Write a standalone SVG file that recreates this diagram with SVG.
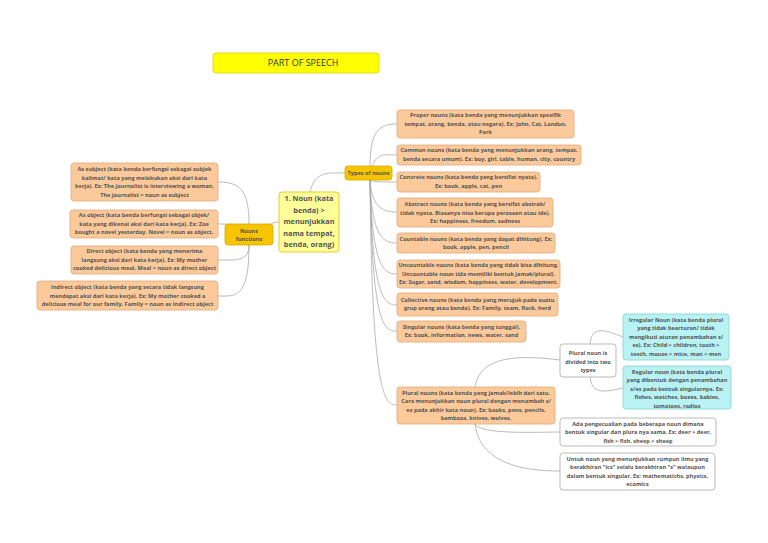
<svg xmlns="http://www.w3.org/2000/svg" width="768" height="543" viewBox="0 0 768 543">
<style>
text{font-family:"Open Sans","Liberation Sans",sans-serif;font-weight:bold;font-size:5.6px;fill:#555;text-anchor:middle}
.p{fill:#fcca9a;stroke:#e0a878;stroke-width:0.8}
.w{fill:#fff;stroke:#aaa;stroke-width:0.8}
.c{fill:#b8f2f2;stroke:#88d0d0;stroke-width:0.8}
.g{fill:#f7c400;stroke:#d8a800;stroke-width:0.8}
#conn path{fill:none;stroke:#aaa;stroke-width:0.8}
</style>
<rect width="768" height="543" fill="#fff"/>
<g id="conn">
<path d="M279,222 C265,222 265,234 273,234"/>
<path d="M310,192 C315,170 330,173 345,173"/>
<path d="M249,224 C249,190 240,182 218,182"/>
<path d="M249,224 C249,226 235,224 218,224"/>
<path d="M249,245 C249,262 235,260 218,260"/>
<path d="M249,245 C249,300 235,296 218,296"/>
<path d="M370,166 C370,130 380,124 397,124"/>
<path d="M370,180 C372,150 385,155 397,155"/>
<path d="M370,180 C372,182 385,182 397,182"/>
<path d="M370,180 C372,210 385,212 397,212"/>
<path d="M370,180 C372,240 385,243 397,243"/>
<path d="M370,180 C372,270 385,274 397,274"/>
<path d="M370,180 C372,300 385,305 397,305"/>
<path d="M370,180 C372,330 385,331 397,331"/>
<path d="M370,180 C372,400 385,405 397,405"/>
<path d="M475,387 C480,355 520,355 560,360"/>
<path d="M475,424 C480,435 540,432 560,432"/>
<path d="M475,424 C480,470 540,471 560,471"/>
<path d="M590,344 C592,325 605,330 623,337"/>
<path d="M590,377 C592,395 605,392 623,388"/>
</g>
<g id="title"><rect x="213" y="53" width="166" height="20" rx="3" fill="#ffff00" stroke="#e0d000" stroke-width="0.8"/><text x="303" y="66" style="font-size:9px;font-weight:normal;fill:#333">PART OF SPEECH</text></g>
<g id="noun"><rect x="279" y="192" width="60" height="60" rx="3" fill="#ffff99" stroke="#e0c000" stroke-width="0.8"/>
<text style="font-size:7.3px" x="309"><tspan x="309" y="201">1. Noun (kata</tspan><tspan x="309" y="212.5">benda) &gt;</tspan><tspan x="309" y="224">menunjukkan</tspan><tspan x="309" y="235.5">nama tempat,</tspan><tspan x="309" y="247">benda, orang)</tspan></text></g>
<g id="functions"><rect class="g" x="225" y="224" width="48" height="21" rx="3"/><text x="249" y="233"><tspan x="249">Nouns</tspan><tspan x="249" dy="7.5">functions</tspan></text></g>
<g id="types"><rect class="g" x="345" y="166" width="47" height="14" rx="3"/><text x="368.5" y="175">Types of nouns</text></g>
<g id="subject"><rect class="p" x="71" y="163" width="147" height="38" rx="3"/><text x="144.5" y="171"><tspan x="144.5">As subject (kata benda berfungsi sebagai subjek</tspan><tspan x="144.5" dy="8.5">kalimat/ kata yang melakukan aksi dari kata</tspan><tspan x="144.5" dy="8.5">kerja). Ex: The journalist is interviewing a woman.</tspan><tspan x="144.5" dy="8.5">The journalist = noun as subject</tspan></text></g>
<g id="object"><rect class="p" x="70" y="210" width="148" height="28" rx="3"/><text x="144" y="217"><tspan x="144">As object (kata benda berfungsi sebagai objek/</tspan><tspan x="144" dy="8.5">kata yang dikenai aksi dari kata kerja). Ex: Zoe</tspan><tspan x="144" dy="8.5">bought a novel yesterday. Novel = noun as object.</tspan></text></g>
<g id="direct"><rect class="p" x="71" y="246" width="147" height="28" rx="3"/><text x="144.5" y="253"><tspan x="144.5">Direct object (kata benda yang menerima</tspan><tspan x="144.5" dy="8.5">langsung aksi dari kata kerja). Ex: My mother</tspan><tspan x="144.5" dy="8.5">cooked delicious meal. Meal = noun as direct object</tspan></text></g>
<g id="indirect"><rect class="p" x="37" y="281" width="181" height="29" rx="3"/><text x="127.5" y="289"><tspan x="127.5">Indirect object (kata benda yang secara tidak langsung</tspan><tspan x="127.5" dy="8.5">mendapat aksi dari kata kerja). Ex: My mother cooked a</tspan><tspan x="127.5" dy="8.5">delicious meal for our family. Family = noun as indirect object</tspan></text></g>
<g id="proper"><rect class="p" x="397" y="110" width="177" height="28" rx="3"/><text x="485.5" y="117"><tspan x="485.5">Proper nouns (kata benda yang menunjukkan spesifik</tspan><tspan x="485.5" dy="8.5">tempat, orang, benda, atau negara). Ex: John, Cat, London,</tspan><tspan x="485.5" dy="8.5">Park</tspan></text></g>
<g id="common"><rect class="p" x="397" y="145" width="184" height="20" rx="3"/><text x="489" y="152"><tspan x="489">Common nouns (kata benda yang menunjukkan orang, tempat,</tspan><tspan x="489" dy="8.5">benda secara umum). Ex: boy, girl, table, human, city, country</tspan></text></g>
<g id="concrete"><rect class="p" x="397" y="172" width="143" height="20" rx="3"/><text x="468.5" y="179"><tspan x="468.5">Concrete nouns (kata benda yang bersifat nyata).</tspan><tspan x="468.5" dy="8.5">Ex: book, apple, cat, pen</tspan></text></g>
<g id="abstract"><rect class="p" x="397" y="198" width="156" height="29" rx="3"/><text x="475" y="206"><tspan x="475">Abstract nouns (kata benda yang bersifat abstrak/</tspan><tspan x="475" dy="8.5">tidak nyata. Biasanya nisa berupa perasaan atau ide).</tspan><tspan x="475" dy="8.5">Ex: happiness, freedom, sadness</tspan></text></g>
<g id="countable"><rect class="p" x="397" y="233" width="158" height="20" rx="3"/><text x="476" y="240.5"><tspan x="476">Countable nouns (kata benda yang dapat dihitung). Ex:</tspan><tspan x="476" dy="8.5">book, apple, pen, pencil</tspan></text></g>
<g id="uncountable"><rect class="p" x="397" y="260" width="163" height="28" rx="3"/><text x="478.5" y="267"><tspan x="478.5">Uncountable nouns (kata benda yang tidak bisa dihitung.</tspan><tspan x="478.5" dy="8.5">Uncountable noun tida memiliki bentuk jamak/plural).</tspan><tspan x="478.5" dy="8.5">Ex: Sugar, sand, wisdom, happiness, water, development.</tspan></text></g>
<g id="collective"><rect class="p" x="397" y="293" width="161" height="23" rx="3"/><text x="477.5" y="301.5"><tspan x="477.5">Collective nouns (kata benda yang merujuk pada suatu</tspan><tspan x="477.5" dy="8.5">grup orang atau benda). Ex: Family, team, flock, herd</tspan></text></g>
<g id="singular"><rect class="p" x="397" y="321" width="129" height="21" rx="3"/><text x="461.5" y="328.5"><tspan x="461.5">Singular nouns (kata benda yang tunggal).</tspan><tspan x="461.5" dy="8.5">Ex: book, information, news, water, sand</tspan></text></g>
<g id="plural"><rect class="p" x="397" y="387" width="158" height="37" rx="3"/><text x="476" y="394.5"><tspan x="476">Plural nouns (kata benda yang jamak/lebih dari satu.</tspan><tspan x="476" dy="8.5">Cara menunjukkan noun plural dengan menambah s/</tspan><tspan x="476" dy="8.5">es pada akhir kata noun). Ex: books, pens, pencils,</tspan><tspan x="476" dy="8.5">bamboos, knives, wolves.</tspan></text></g>
<g id="divided"><rect class="w" x="560" y="344" width="56" height="33" rx="3"/><text x="588" y="355"><tspan x="588">Plural noun is</tspan><tspan x="588" dy="8.5">divided into two</tspan><tspan x="588" dy="8.5">types</tspan></text></g>
<g id="irregular"><rect class="c" x="623" y="314" width="106" height="46" rx="3"/><text x="676" y="321.5"><tspan x="676">Irregular Noun (kata benda plural</tspan><tspan x="676" dy="8.5">yang tidak bearturan/ tidak</tspan><tspan x="676" dy="8.5">mengikuti aturan penambahan s/</tspan><tspan x="676" dy="8.5">es). Ex: Child &gt; children, tooth &gt;</tspan><tspan x="676" dy="8.5">teeth, mouse &gt; mice, man &gt; men</tspan></text></g>
<g id="regular"><rect class="c" x="623" y="366" width="108" height="43" rx="3"/><text x="677" y="373.5"><tspan x="677">Regular noun (kata benda plural</tspan><tspan x="677" dy="8.5">yang dibentuk dengan penambahan</tspan><tspan x="677" dy="8.5">s/es pada bentuk singularnya. Ex:</tspan><tspan x="677" dy="8.5">fishes, watches, boxes, babies,</tspan><tspan x="677" dy="8.5">tomatoes, radios</tspan></text></g>
<g id="ada"><rect class="w" x="560" y="418" width="156" height="28" rx="3"/><text x="638" y="425.5"><tspan x="638">Ada pengecualian pada beberapa noun dimana</tspan><tspan x="638" dy="8.5">bentuk singular dan plura nya sama. Ex: deer &gt; deer,</tspan><tspan x="638" dy="8.5">fish &gt; fish, sheep &gt; sheep</tspan></text></g>
<g id="untuk"><rect class="w" x="560" y="453" width="155" height="37" rx="3"/><text x="637.5" y="460.5"><tspan x="637.5">Untuk noun yang menunjukkan rumpun ilmu yang</tspan><tspan x="637.5" dy="8.5">berakhiran "ics" selalu berakhiran "s" walaupun</tspan><tspan x="637.5" dy="8.5">dalam bentuk singular. Ex: mathematichs, physics,</tspan><tspan x="637.5" dy="8.5">ecomics</tspan></text></g>
</svg>
